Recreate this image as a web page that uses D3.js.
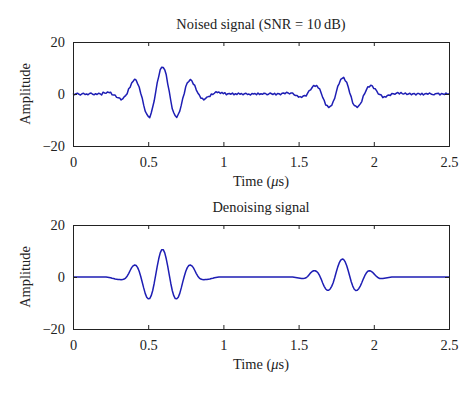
<!DOCTYPE html>
<html lang="en">
<head>
  <meta charset="UTF-8">
  <title>Noised and denoising signal</title>
  <style>
    body {
      margin: 0;
      background-color: #fff;
    }

    svg {
      display: block;
    }

    .axis path,
    .axis line {
      stroke: #222;
      stroke-width: 1;
    }

    .signal {
      fill: none;
      stroke: #1e1eb4;
      stroke-width: 1.5;
      stroke-linejoin: round;
    }

    .title,
    .label {
      text-anchor: middle;
    }
  </style>
</head>
<body>

  <div id="chart"></div>

  <script src="https://d3js.org/d3.v7.min.js"></script>
  <script>
    // sampling step of both records, in microseconds
    const sampleStep = 0.01;

    // noised signal, one row per 0.1 us (0 to 2.5 us)
    const noisedAmp = [
      0.2, -0.3, 0.1, 0.3, -0.1, -0.4, 0.1, 0.3, -0.2, 0.0,
      -0.3, 0.2, 0.4, -0.1, -0.3, 0.1, -0.2, 0.3, 0.1, -0.4,
      0.7, 0.4, 0.3, 0.8, 0.5, 0.7, -0.3, -0.4, -0.4, -1.3,
      -1.4, -1.5, -2.3, -1.9, -1.1, -0.6, 0.1, 2.0, 2.6, 4.2,
      4.9, 5.7, 5.3, 3.9, 2.7, 0.3, -1.5, -4.3, -6.6, -7.7,
      -8.6, -9.1, -7.3, -5.0, -2.6, 0.8, 4.4, 6.7, 9.4, 10.3,
      10.2, 9.3, 7.4, 3.8, 1.0, -2.5, -5.7, -7.2, -8.4, -9.0,
      -7.8, -6.6, -4.3, -1.6, 0.2, 2.9, 4.3, 4.8, 5.6, 5.1,
      3.8, 3.3, 1.5, 0.4, -0.4, -1.6, -1.6, -2.3, -1.8, -1.2,
      -1.0, -1.0, 0.0, -0.2, 0.3, 0.9, 0.5, 0.8, 0.2, 0.6,
      0.1, 0.5, -0.3, 0.1, 0.2, -0.1, 0.4, -0.3, 0.1, -0.2,
      0.4, -0.1, 0.2, -0.3, 0.1, 0.3, -0.2, 0.0, -0.4, 0.2,
      0.0, 0.2, -0.3, 0.4, -0.2, 0.1, -0.1, 0.3, 0.2, -0.3,
      -0.1, 0.4, 0.1, -0.2, 0.3, -0.4, 0.2, 0.1, -0.3, 0.3,
      0.4, 0.1, 0.7, 0.4, 0.0, 0.4, 0.4, -0.3, -0.6, -0.6,
      -1.2, -1.0, -1.3, -0.8, -0.6, -0.8, 0.3, 1.3, 1.6, 2.5,
      3.3, 2.9, 3.3, 2.4, 2.0, 0.4, -1.3, -2.4, -4.2, -4.4,
      -5.2, -4.8, -4.4, -2.9, -1.7, 0.6, 2.9, 4.0, 5.6, 6.0,
      6.4, 5.1, 4.5, 2.7, 0.4, -1.1, -3.5, -4.4, -4.6, -5.2,
      -4.5, -3.8, -2.9, -0.7, 0.2, 1.5, 2.8, 2.7, 3.4, 3.1,
      2.1, 2.0, 1.1, 0.0, -0.2, -0.4, -1.4, -1.0, -1.2, -0.6,
      -0.4, -0.6, 0.2, 0.1, -0.1, 0.3, 0.6, 0.0, 0.6, 0.1,
      0.0, 0.4, -0.2, 0.0, 0.3, -0.3, 0.1, 0.2, -0.4, 0.2,
      0.2, -0.3, 0.3, -0.4, 0.1, 0.2, -0.1, 0.4, 0.0, -0.2,
      -0.3, 0.1, 0.2, 0.3, -0.4, 0.2, 0.0, -0.2, 0.4, -0.1,
      0.1
    ];

    // denoised signal, same sampling
    const denoisedAmp = [
      0, 0, 0, 0, 0, 0, 0, 0, 0, 0,
      0, 0, 0, 0, 0, 0, 0, 0, 0, 0,
      0, 0, 0, -0.1, -0.2, -0.3, -0.5, -0.6, -0.8, -0.9,
      -1.0, -1.0, -1.1, -1.0, -0.8, -0.4, 0.3, 1.3, 2.5, 3.6,
      4.3, 4.6, 4.4, 3.6, 2.2, 0.3, -1.9, -4.2, -6.3, -7.8,
      -8.4, -8.3, -7.2, -5.2, -2.4, 0.8, 4.1, 7.0, 9.3, 10.5,
      10.5, 9.3, 7.0, 4.1, 0.8, -2.4, -5.2, -7.2, -8.3, -8.4,
      -7.8, -6.3, -4.2, -1.9, 0.3, 2.2, 3.6, 4.4, 4.6, 4.3,
      3.6, 2.5, 1.3, 0.3, -0.4, -0.8, -1.0, -1.1, -1.0, -1.0,
      -0.9, -0.8, -0.6, -0.5, -0.3, -0.2, -0.1, 0, 0, 0,
      0, 0, 0, 0, 0, 0, 0, 0, 0, 0,
      0, 0, 0, 0, 0, 0, 0, 0, 0, 0,
      0, 0, 0, 0, 0, 0, 0, 0, 0, 0,
      0, 0, 0, 0, 0, 0, 0, 0, 0, 0,
      0, 0, 0, 0, 0, 0, 0, -0.1, -0.2, -0.3,
      -0.4, -0.5, -0.6, -0.6, -0.5, -0.3, 0.2, 0.9, 1.6, 2.1,
      2.4, 2.4, 2.1, 1.5, 0.5, -0.8, -2.3, -3.6, -4.6, -5.1,
      -5.1, -4.6, -3.6, -2.2, -0.3, 1.8, 3.8, 5.4, 6.5, 6.9,
      6.7, 5.8, 4.3, 2.4, 0.3, -1.8, -3.5, -4.7, -5.2, -5.1,
      -4.5, -3.5, -2.2, -0.8, 0.5, 1.5, 2.2, 2.4, 2.3, 1.9,
      1.3, 0.7, 0.1, -0.3, -0.6, -0.6, -0.6, -0.5, -0.4, -0.3,
      -0.2, -0.1, 0, 0, 0, 0, 0, 0, 0, 0,
      0, 0, 0, 0, 0, 0, 0, 0, 0, 0,
      0, 0, 0, 0, 0, 0, 0, 0, 0, 0,
      0, 0, 0, 0, 0, 0, 0, 0, 0, 0,
      0
    ];

    const xTicks = [0, 0.5, 1, 1.5, 2, 2.5];
    const yTicks = [-20, 0, 20];
    const panelTitles = ['Noised signal (SNR = 10\u2009dB)', 'Denoising signal'];

    const serif = "'Liberation Serif', 'Times New Roman', serif";
    const fontSize = 14.4;
    const ink = '#222';

    const width = 474;
    const height = 395;
    const left = 73, right = 449;
    const panelTops = [42, 225];
    const panelHeight = 104;

    const svg = d3.select('#chart').append('svg')
      .attr('width', width)
      .attr('height', height)
      .attr('font-family', serif)
      .attr('font-size', fontSize);

    const x = d3.scaleLinear().domain([0, 2.5]).range([left, right]);

    const fmt = d => (d < 0 ? '\u2212' + Math.abs(d) : String(d));

    // d3 axes put sans-serif on their group, take that back off
    function styleAxis(sel) {
      sel.attr('font-family', serif).attr('font-size', fontSize);
      sel.selectAll('text').attr('fill', ink);
    }

    function drawPanel(values, top, title) {
      const y = d3.scaleLinear().domain([-20, 20]).range([top + panelHeight, top]);
      const g = svg.append('g');

      // signal
      const line = d3.line()
        .x((d, i) => x(i * sampleStep))
        .y(d => y(d));

      g.append('path')
        .datum(values)
        .attr('class', 'signal')
        .attr('d', line);

      // box with inward ticks (matlab style)
      g.append('g').attr('class', 'axis')
        .attr('transform', `translate(0,${top + panelHeight})`)
        .call(d3.axisBottom(x).tickValues(xTicks).tickSize(-4).tickPadding(11).tickFormat(fmt))
        .call(styleAxis);

      g.append('g').attr('class', 'axis')
        .attr('transform', `translate(0,${top})`)
        .call(d3.axisTop(x).tickValues(xTicks).tickSize(-4).tickFormat(''));

      g.append('g').attr('class', 'axis')
        .attr('transform', `translate(${left},0)`)
        .call(d3.axisLeft(y).tickValues(yTicks).tickSize(-4).tickPadding(8).tickFormat(fmt))
        .call(styleAxis);

      g.append('g').attr('class', 'axis')
        .attr('transform', `translate(${right},0)`)
        .call(d3.axisRight(y).tickValues(yTicks).tickSize(-4).tickFormat(''));

      g.selectAll('.axis path').attr('stroke-linecap', 'square');

      g.append('text')
        .attr('class', 'title')
        .attr('fill', ink)
        .attr('x', (left + right) / 2)
        .attr('y', top - 13)
        .text(title);

      const xl = g.append('text')
        .attr('class', 'label')
        .attr('fill', ink)
        .attr('x', (left + right) / 2)
        .attr('y', top + panelHeight + 40);
      xl.append('tspan').text('Time (');
      xl.append('tspan').attr('font-style', 'italic').text('\u03bc');
      xl.append('tspan').text('s)');

      g.append('text')
        .attr('class', 'label')
        .attr('fill', ink)
        .attr('transform', `translate(30,${top + panelHeight / 2}) rotate(-90)`)
        .text('Amplitude');
    }

    drawPanel(noisedAmp, panelTops[0], panelTitles[0]);
    drawPanel(denoisedAmp, panelTops[1], panelTitles[1]);
  </script>
</body>
</html>
